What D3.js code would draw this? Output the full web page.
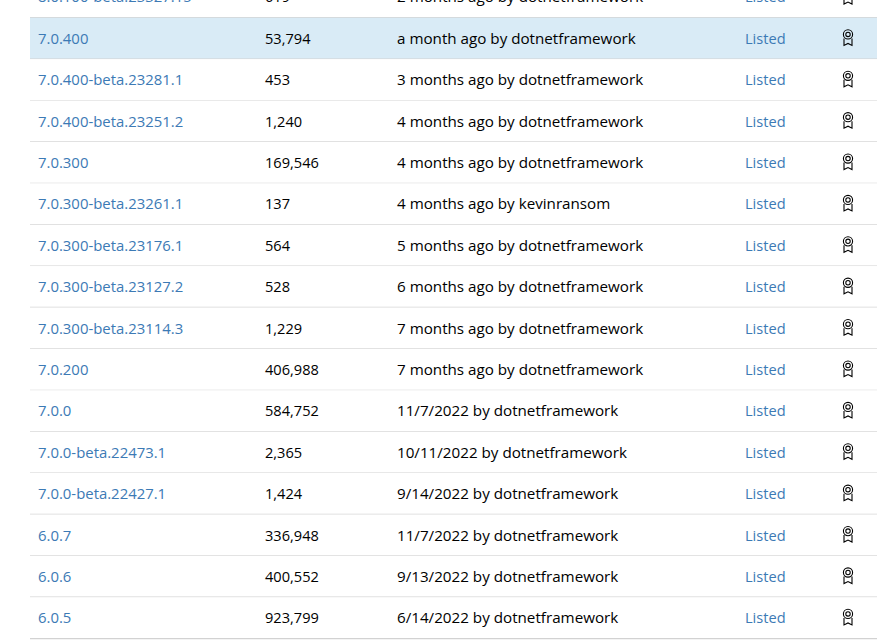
<!DOCTYPE html>
<html>
<head>
<meta charset="utf-8">
<script src="https://cdn.jsdelivr.net/npm/d3@7"></script>
<style>
html, body { margin: 0; padding: 0; background: #fff; overflow: hidden; }
text { font-family: "Open Sans", "Noto Sans", sans-serif; font-size: 14.6px; }
.version { font-size: 14.9px; }
.published { font-size: 15.2px; }
</style>
</head>
<body>
<svg id="chart" width="894" height="641"></svg>
<script>
var versions = ["8.0.100-beta.23327.15", "7.0.400", "7.0.400-beta.23281.1", "7.0.400-beta.23251.2", "7.0.300",
    "7.0.300-beta.23261.1", "7.0.300-beta.23176.1", "7.0.300-beta.23127.2", "7.0.300-beta.23114.3", "7.0.200",
    "7.0.0", "7.0.0-beta.22473.1", "7.0.0-beta.22427.1", "6.0.7", "6.0.6", "6.0.5"];
var downloads = [619, 53794, 453, 1240, 169546, 137, 564, 528, 1229, 406988, 584752, 2365, 1424, 336948, 400552, 923799];
var published = ["2 months ago by dotnetframework", "a month ago by dotnetframework", "3 months ago by dotnetframework",
    "4 months ago by dotnetframework", "4 months ago by dotnetframework", "4 months ago by kevinransom",
    "5 months ago by dotnetframework", "6 months ago by dotnetframework", "7 months ago by dotnetframework",
    "7 months ago by dotnetframework", "11/7/2022 by dotnetframework", "10/11/2022 by dotnetframework",
    "9/14/2022 by dotnetframework", "11/7/2022 by dotnetframework", "9/13/2022 by dotnetframework",
    "6/14/2022 by dotnetframework"];
var current = "7.0.400";
var status = "Listed";

var fmt = d3.format(",");
var svg = d3.select("#chart");

// rows: first one is cut by the top of the window
var y = d3.scaleBand().domain(versions).range([-23.7, 638.6]);
var left = 30, right = 877;

var rows = svg.selectAll("g.row").data(versions).enter().append("g")
    .attr("class", "row")
    .attr("transform", function (d) { return "translate(0," + y(d) + ")"; });

rows.append("rect")
    .attr("x", left)
    .attr("width", right - left)
    .attr("height", y.bandwidth())
    .attr("fill", function (d) { return d == current ? "#d9ebf6" : "#fff"; });

rows.append("line")
    .attr("x1", left).attr("x2", right)
    .attr("y1", y.bandwidth()).attr("y2", y.bandwidth())
    .attr("stroke", "#d2d2d2").attr("stroke-width", 1.2);

var mid = y.bandwidth() / 2 + 5.4;

rows.append("text").attr("class", "version").attr("x", 38).attr("y", mid).attr("fill", "#3c7ab5").text(function (d) { return d; });
rows.append("text").attr("x", 265).attr("y", mid).attr("fill", "#000")
    .text(function (d, i) { return fmt(downloads[i]); });
rows.append("text").attr("class", "published").attr("x", 397).attr("y", mid).attr("fill", "#000")
    .text(function (d, i) { return published[i]; });
rows.append("text").attr("x", 745).attr("y", mid).attr("fill", "#3c7ab5").text(status);

// ribbon icon
var icon = rows.append("g")
    .attr("transform", "translate(848," + (y.bandwidth() / 2 - 1) + ")")
    .attr("fill", "none").attr("stroke", "#000").attr("stroke-width", 1.1);
icon.append("circle").attr("cy", -3).attr("r", 4.6);
icon.append("circle").attr("cy", -3).attr("r", 2.2);
icon.append("path").attr("d", "M-4,1V8L0,6L4,8V1");
</script>
</body>
</html>
